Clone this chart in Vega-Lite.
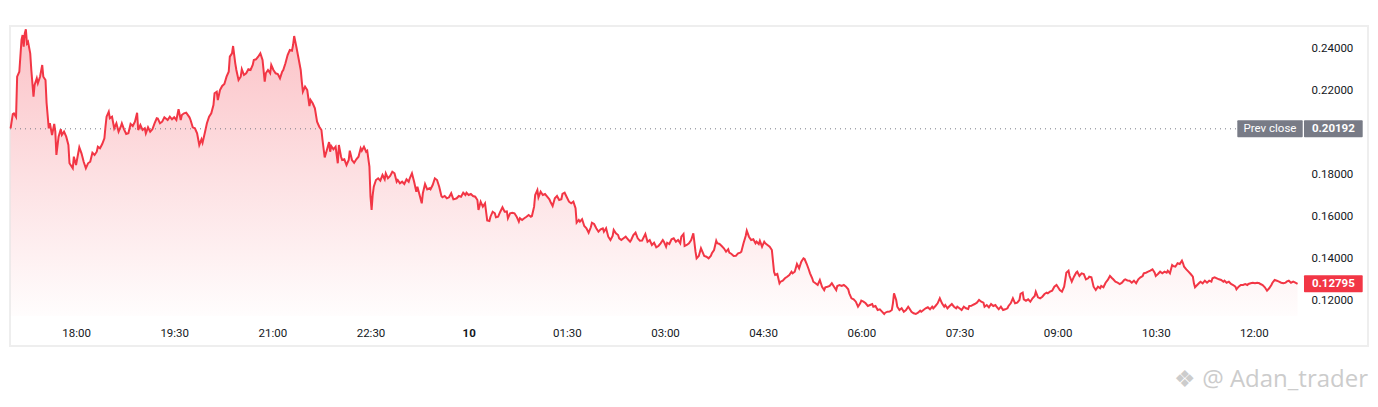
{
  "$schema": "https://vega.github.io/schema/vega-lite/v6.json",
  "width": 1358,
  "height": 320,
  "autosize": {"type": "none"},
  "padding": {"left": 10, "top": 26, "right": 10, "bottom": 61},
  "background": "white",
  "config": {
    "view": {"stroke": "#EEEEEE", "strokeWidth": 2},
    "font": "Roboto"
  },
  "title": {
    "text": "❖  @ Adan_trader",
    "orient": "bottom",
    "anchor": "end",
    "frame": "group",
    "font": "Open Sans",
    "fontSize": 24,
    "fontWeight": "normal",
    "color": "#CCCCCC",
    "offset": 22
  },
  "datasets": {
    "series": [
      {"time":"09 17:00","price":0.20217},{"time":"09 17:02","price":0.20899},{"time":"09 17:03","price":0.20932},{"time":"09 17:05","price":0.20756},{"time":"09 17:06","price":0.22678},{"time":"09 17:08","price":0.22917},{"time":"09 17:10","price":0.24429},{"time":"09 17:11","price":0.24668},{"time":"09 17:12","price":0.24110},{"time":"09 17:13","price":0.24749},{"time":"09 17:14","price":0.24940},{"time":"09 17:15","price":0.24272},{"time":"09 17:16","price":0.24348},{"time":"09 17:18","price":0.23795},{"time":"09 17:19","price":0.22998},{"time":"09 17:21","price":0.21724},{"time":"09 17:22","price":0.22282},{"time":"09 17:24","price":0.22602},{"time":"09 17:25","price":0.22364},{"time":"09 17:27","price":0.22678},{"time":"09 17:29","price":0.23237},{"time":"09 17:30","price":0.22678},{"time":"09 17:32","price":0.22521},{"time":"09 17:33","price":0.21424},{"time":"09 17:35","price":0.20217},{"time":"09 17:36","price":0.20455},{"time":"09 17:38","price":0.19897},{"time":"09 17:40","price":0.20422},{"time":"09 17:41","price":0.20054},{"time":"09 17:42","price":0.18943},{"time":"09 17:44","price":0.19816},{"time":"09 17:46","price":0.20169},{"time":"09 17:47","price":0.19897},{"time":"09 17:49","price":0.20054},{"time":"09 17:51","price":0.19816},{"time":"09 17:53","price":0.19420},{"time":"09 17:54","price":0.18547},{"time":"09 17:57","price":0.18308},{"time":"09 17:58","price":0.18862},
      {"time":"09 18:00","price":0.18466},{"time":"09 18:03","price":0.19310},{"time":"09 18:05","price":0.19024},{"time":"09 18:07","price":0.18623},{"time":"09 18:09","price":0.18308},{"time":"09 18:11","price":0.18547},{"time":"09 18:13","price":0.18623},{"time":"09 18:15","price":0.19053},{"time":"09 18:17","price":0.18943},{"time":"09 18:19","price":0.19100},{"time":"09 18:20","price":0.19339},{"time":"09 18:22","price":0.19262},{"time":"09 18:24","price":0.19468},{"time":"09 18:26","price":0.19740},{"time":"09 18:27","price":0.20293},{"time":"09 18:28","price":0.20770},{"time":"09 18:30","price":0.21009},{"time":"09 18:31","price":0.20694},{"time":"09 18:33","price":0.20770},{"time":"09 18:35","price":0.20217},{"time":"09 18:37","price":0.20455},{"time":"09 18:39","price":0.20054},{"time":"09 18:41","price":0.20293},{"time":"09 18:42","price":0.20455},{"time":"09 18:44","price":0.20169},{"time":"09 18:46","price":0.19945},{"time":"09 18:48","price":0.19978},{"time":"09 18:50","price":0.20422},{"time":"09 18:52","price":0.20326},{"time":"09 18:54","price":0.20532},{"time":"09 18:56","price":0.20961},{"time":"09 18:57","price":0.20136},{"time":"09 18:59","price":0.20374},
      {"time":"09 19:01","price":0.20136},{"time":"09 19:03","price":0.20217},{"time":"09 19:04","price":0.19978},{"time":"09 19:06","price":0.20264},{"time":"09 19:08","price":0.20054},{"time":"09 19:10","price":0.20169},{"time":"09 19:12","price":0.20455},{"time":"09 19:14","price":0.20694},{"time":"09 19:15","price":0.20680},{"time":"09 19:17","price":0.20455},{"time":"09 19:19","price":0.20532},{"time":"09 19:21","price":0.20741},{"time":"09 19:24","price":0.20613},{"time":"09 19:26","price":0.20770},{"time":"09 19:28","price":0.20646},{"time":"09 19:30","price":0.20741},{"time":"09 19:32","price":0.20613},{"time":"09 19:34","price":0.21123},{"time":"09 19:36","price":0.20613},{"time":"09 19:37","price":0.20851},{"time":"09 19:39","price":0.20932},{"time":"09 19:41","price":0.20961},{"time":"09 19:44","price":0.20741},{"time":"09 19:45","price":0.20613},{"time":"09 19:47","price":0.20264},{"time":"09 19:49","price":0.20217},{"time":"09 19:51","price":0.19978},{"time":"09 19:53","price":0.19420},{"time":"09 19:55","price":0.19692},{"time":"09 19:56","price":0.19530},{"time":"09 19:58","price":0.19978},
      {"time":"09 20:00","price":0.20455},{"time":"09 20:02","price":0.20770},{"time":"09 20:04","price":0.20932},{"time":"09 20:06","price":0.21328},{"time":"09 20:07","price":0.21887},{"time":"09 20:09","price":0.21963},{"time":"09 20:10","price":0.21567},{"time":"09 20:12","price":0.22044},{"time":"09 20:14","price":0.22235},{"time":"09 20:16","price":0.22330},{"time":"09 20:18","price":0.22678},{"time":"09 20:20","price":0.22917},{"time":"09 20:21","price":0.23633},{"time":"09 20:23","price":0.23795},{"time":"09 20:24","price":0.24143},{"time":"09 20:26","price":0.23318},{"time":"09 20:27","price":0.22998},{"time":"09 20:29","price":0.22521},{"time":"09 20:31","price":0.22678},{"time":"09 20:32","price":0.23032},{"time":"09 20:34","price":0.22760},{"time":"09 20:36","price":0.22841},{"time":"09 20:38","price":0.23032},{"time":"09 20:40","price":0.22998},{"time":"09 20:42","price":0.23237},{"time":"09 20:43","price":0.23475},{"time":"09 20:45","price":0.23509},{"time":"09 20:47","price":0.23633},{"time":"09 20:49","price":0.23795},{"time":"09 20:51","price":0.23475},{"time":"09 20:53","price":0.22440},{"time":"09 20:54","price":0.22841},{"time":"09 20:56","price":0.22998},{"time":"09 20:58","price":0.22841},{"time":"09 20:59","price":0.23237},
      {"time":"09 21:01","price":0.22998},{"time":"09 21:03","price":0.22841},{"time":"09 21:05","price":0.22807},{"time":"09 21:07","price":0.22602},{"time":"09 21:09","price":0.22917},{"time":"09 21:10","price":0.22998},{"time":"09 21:12","price":0.23318},{"time":"09 21:14","price":0.23714},{"time":"09 21:16","price":0.23952},{"time":"09 21:18","price":0.23919},{"time":"09 21:19","price":0.24191},{"time":"09 21:20","price":0.24620},{"time":"09 21:22","price":0.24110},{"time":"09 21:24","price":0.23556},{"time":"09 21:26","price":0.22998},{"time":"09 21:27","price":0.22440},{"time":"09 21:28","price":0.21963},{"time":"09 21:30","price":0.22201},{"time":"09 21:32","price":0.22044},{"time":"09 21:34","price":0.21281},{"time":"09 21:35","price":0.21567},{"time":"09 21:37","price":0.21409},{"time":"09 21:39","price":0.21171},{"time":"09 21:41","price":0.20532},{"time":"09 21:43","price":0.20293},{"time":"09 21:45","price":0.20136},{"time":"09 21:46","price":0.19658},{"time":"09 21:48","price":0.18824},{"time":"09 21:50","price":0.19181},{"time":"09 21:52","price":0.19563},{"time":"09 21:53","price":0.19100},{"time":"09 21:54","price":0.19372},{"time":"09 21:56","price":0.19215},{"time":"09 21:58","price":0.19339},
      {"time":"09 22:00","price":0.18547},{"time":"09 22:01","price":0.19420},{"time":"09 22:03","price":0.18862},{"time":"09 22:04","price":0.18704},{"time":"09 22:06","price":0.18738},{"time":"09 22:08","price":0.18466},{"time":"09 22:10","price":0.18704},{"time":"09 22:11","price":0.19148},{"time":"09 22:13","price":0.18704},{"time":"09 22:15","price":0.18575},{"time":"09 22:17","price":0.18738},{"time":"09 22:19","price":0.18862},{"time":"09 22:21","price":0.19262},{"time":"09 22:22","price":0.19148},{"time":"09 22:24","price":0.19339},{"time":"09 22:26","price":0.19100},{"time":"09 22:27","price":0.19148},{"time":"09 22:29","price":0.18385},{"time":"09 22:30","price":0.16953},{"time":"09 22:31","price":0.16319},{"time":"09 22:32","price":0.17034},{"time":"09 22:33","price":0.17430},{"time":"09 22:35","price":0.17750},{"time":"09 22:37","price":0.17831},{"time":"09 22:39","price":0.17717},{"time":"09 22:41","price":0.17989},{"time":"09 22:43","price":0.17783},{"time":"09 22:44","price":0.18070},{"time":"09 22:46","price":0.17831},{"time":"09 22:48","price":0.17941},{"time":"09 22:50","price":0.18146},{"time":"09 22:52","price":0.18070},{"time":"09 22:54","price":0.17669},{"time":"09 22:55","price":0.17750},{"time":"09 22:57","price":0.17593},{"time":"09 22:59","price":0.17669},
      {"time":"09 23:01","price":0.17559},{"time":"09 23:03","price":0.17783},{"time":"09 23:05","price":0.17669},{"time":"09 23:06","price":0.17831},{"time":"09 23:08","price":0.18070},{"time":"09 23:10","price":0.17669},{"time":"09 23:12","price":0.17192},{"time":"09 23:13","price":0.17430},{"time":"09 23:15","price":0.17034},{"time":"09 23:17","price":0.16638},{"time":"09 23:18","price":0.17116},{"time":"09 23:20","price":0.17559},{"time":"09 23:22","price":0.17306},{"time":"09 23:24","price":0.17354},{"time":"09 23:25","price":0.17306},{"time":"09 23:27","price":0.17511},{"time":"09 23:29","price":0.17831},{"time":"09 23:31","price":0.17750},{"time":"09 23:33","price":0.17430},{"time":"09 23:35","price":0.16987},{"time":"09 23:36","price":0.16925},{"time":"09 23:38","price":0.16987},{"time":"09 23:40","price":0.16877},{"time":"09 23:42","price":0.16925},{"time":"09 23:44","price":0.17116},{"time":"09 23:46","price":0.16829},{"time":"09 23:47","price":0.16840},{"time":"09 23:49","price":0.16877},{"time":"09 23:51","price":0.16987},{"time":"09 23:53","price":0.16953},{"time":"09 23:55","price":0.17144},{"time":"09 23:57","price":0.17034},{"time":"09 23:58","price":0.17144},
      {"time":"10 00:00","price":0.17034},{"time":"10 00:02","price":0.17082},{"time":"10 00:04","price":0.16987},{"time":"10 00:06","price":0.16953},{"time":"10 00:08","price":0.16796},{"time":"10 00:09","price":0.16319},{"time":"10 00:11","price":0.16715},{"time":"10 00:13","price":0.16476},{"time":"10 00:15","price":0.16638},{"time":"10 00:17","price":0.15818},{"time":"10 00:19","price":0.15794},{"time":"10 00:20","price":0.15999},{"time":"10 00:22","price":0.16238},{"time":"10 00:24","price":0.16161},{"time":"10 00:25","price":0.15970},{"time":"10 00:27","price":0.15999},{"time":"10 00:29","price":0.16238},{"time":"10 00:31","price":0.16448},{"time":"10 00:33","price":0.16238},{"time":"10 00:35","price":0.16250},{"time":"10 00:36","price":0.15923},{"time":"10 00:38","price":0.16161},{"time":"10 00:40","price":0.16190},{"time":"10 00:42","price":0.16161},{"time":"10 00:44","price":0.15999},{"time":"10 00:46","price":0.15760},{"time":"10 00:47","price":0.15923},{"time":"10 00:49","price":0.15842},{"time":"10 00:51","price":0.15923},{"time":"10 00:53","price":0.15999},{"time":"10 00:55","price":0.16080},{"time":"10 00:57","price":0.15999},{"time":"10 00:58","price":0.16032},
      {"time":"10 01:00","price":0.16476},{"time":"10 01:01","price":0.17034},{"time":"10 01:03","price":0.17273},{"time":"10 01:04","price":0.16925},{"time":"10 01:06","price":0.17192},{"time":"10 01:08","price":0.17034},{"time":"10 01:10","price":0.17082},{"time":"10 01:12","price":0.16953},{"time":"10 01:14","price":0.16829},{"time":"10 01:15","price":0.16715},{"time":"10 01:17","price":0.16510},{"time":"10 01:19","price":0.16877},{"time":"10 01:21","price":0.16987},{"time":"10 01:23","price":0.16796},{"time":"10 01:25","price":0.16829},{"time":"10 01:26","price":0.17082},{"time":"10 01:28","price":0.17144},{"time":"10 01:30","price":0.16925},{"time":"10 01:32","price":0.16715},{"time":"10 01:34","price":0.16638},{"time":"10 01:36","price":0.16715},{"time":"10 01:38","price":0.16400},{"time":"10 01:39","price":0.15713},{"time":"10 01:41","price":0.15842},{"time":"10 01:42","price":0.15760},{"time":"10 01:44","price":0.15875},{"time":"10 01:46","price":0.15555},{"time":"10 01:48","price":0.15446},{"time":"10 01:50","price":0.15236},{"time":"10 01:52","price":0.15493},{"time":"10 01:53","price":0.15713},{"time":"10 01:55","price":0.15651},{"time":"10 01:57","price":0.15446},{"time":"10 01:59","price":0.15283},
      {"time":"10 02:01","price":0.15398},{"time":"10 02:03","price":0.15446},{"time":"10 02:04","price":0.15283},{"time":"10 02:06","price":0.15446},{"time":"10 02:08","price":0.15045},{"time":"10 02:10","price":0.14887},{"time":"10 02:12","price":0.15078},{"time":"10 02:13","price":0.15365},{"time":"10 02:15","price":0.15207},{"time":"10 02:17","price":0.15126},{"time":"10 02:18","price":0.14968},{"time":"10 02:20","price":0.14887},{"time":"10 02:22","price":0.14968},{"time":"10 02:24","price":0.15045},{"time":"10 02:26","price":0.14921},{"time":"10 02:28","price":0.14806},{"time":"10 02:29","price":0.14887},{"time":"10 02:31","price":0.15126},{"time":"10 02:33","price":0.15236},{"time":"10 02:35","price":0.14968},{"time":"10 02:37","price":0.14854},{"time":"10 02:39","price":0.14860},{"time":"10 02:40","price":0.14968},{"time":"10 02:42","price":0.15174},{"time":"10 02:44","price":0.14806},{"time":"10 02:46","price":0.14887},{"time":"10 02:48","price":0.14649},{"time":"10 02:50","price":0.14759},{"time":"10 02:52","price":0.14539},{"time":"10 02:54","price":0.14601},{"time":"10 02:56","price":0.14730},{"time":"10 02:58","price":0.14887},{"time":"10 02:59","price":0.14806},
      {"time":"10 03:01","price":0.14568},{"time":"10 03:02","price":0.14759},{"time":"10 03:04","price":0.14697},{"time":"10 03:06","price":0.14921},{"time":"10 03:08","price":0.14968},{"time":"10 03:10","price":0.14806},{"time":"10 03:12","price":0.14887},{"time":"10 03:14","price":0.14730},{"time":"10 03:15","price":0.15045},{"time":"10 03:17","price":0.15174},{"time":"10 03:18","price":0.14601},{"time":"10 03:20","price":0.14649},{"time":"10 03:22","price":0.14730},{"time":"10 03:24","price":0.14887},{"time":"10 03:26","price":0.15207},{"time":"10 03:28","price":0.14329},{"time":"10 03:29","price":0.14014},{"time":"10 03:31","price":0.14124},{"time":"10 03:33","price":0.14491},{"time":"10 03:35","price":0.14253},{"time":"10 03:36","price":0.14124},{"time":"10 03:38","price":0.14091},{"time":"10 03:40","price":0.14014},{"time":"10 03:42","price":0.14124},{"time":"10 03:43","price":0.14253},{"time":"10 03:45","price":0.14410},{"time":"10 03:47","price":0.14854},{"time":"10 03:48","price":0.14730},{"time":"10 03:50","price":0.14697},{"time":"10 03:52","price":0.14601},{"time":"10 03:54","price":0.14491},{"time":"10 03:56","price":0.14329},{"time":"10 03:58","price":0.14444},{"time":"10 03:59","price":0.14281},
      {"time":"10 04:01","price":0.14219},{"time":"10 04:03","price":0.14124},{"time":"10 04:05","price":0.14130},{"time":"10 04:07","price":0.14253},{"time":"10 04:09","price":0.14281},{"time":"10 04:10","price":0.14329},{"time":"10 04:12","price":0.14730},{"time":"10 04:14","price":0.15078},{"time":"10 04:15","price":0.15331},{"time":"10 04:17","price":0.15045},{"time":"10 04:19","price":0.14887},{"time":"10 04:21","price":0.14921},{"time":"10 04:23","price":0.14730},{"time":"10 04:24","price":0.14806},{"time":"10 04:26","price":0.14697},{"time":"10 04:27","price":0.14854},{"time":"10 04:29","price":0.14568},{"time":"10 04:31","price":0.14806},{"time":"10 04:32","price":0.14730},{"time":"10 04:34","price":0.14649},{"time":"10 04:36","price":0.14568},{"time":"10 04:38","price":0.14410},{"time":"10 04:40","price":0.13375},{"time":"10 04:41","price":0.13218},{"time":"10 04:43","price":0.13265},{"time":"10 04:45","price":0.12822},{"time":"10 04:46","price":0.12898},{"time":"10 04:48","price":0.12946},{"time":"10 04:50","price":0.13060},{"time":"10 04:52","price":0.13136},{"time":"10 04:54","price":0.13218},{"time":"10 04:56","price":0.13375},{"time":"10 04:57","price":0.13299},{"time":"10 04:59","price":0.13375},
      {"time":"10 05:01","price":0.13742},{"time":"10 05:03","price":0.13537},{"time":"10 05:05","price":0.13852},{"time":"10 05:07","price":0.14014},{"time":"10 05:08","price":0.13981},{"time":"10 05:10","price":0.13742},{"time":"10 05:12","price":0.13456},{"time":"10 05:13","price":0.13299},{"time":"10 05:15","price":0.13060},{"time":"10 05:16","price":0.12898},{"time":"10 05:18","price":0.12822},{"time":"10 05:20","price":0.12740},{"time":"10 05:22","price":0.12979},{"time":"10 05:24","price":0.12659},{"time":"10 05:26","price":0.12502},{"time":"10 05:27","price":0.12631},{"time":"10 05:29","price":0.12659},{"time":"10 05:31","price":0.12693},{"time":"10 05:33","price":0.12822},{"time":"10 05:35","price":0.12659},{"time":"10 05:37","price":0.12502},{"time":"10 05:38","price":0.12693},{"time":"10 05:40","price":0.12740},{"time":"10 05:42","price":0.12693},{"time":"10 05:44","price":0.12740},{"time":"10 05:46","price":0.12659},{"time":"10 05:48","price":0.12535},{"time":"10 05:49","price":0.12344},{"time":"10 05:51","price":0.12106},{"time":"10 05:53","price":0.12058},{"time":"10 05:55","price":0.11944},{"time":"10 05:57","price":0.11705},{"time":"10 05:59","price":0.11867},
      {"time":"10 06:00","price":0.11991},{"time":"10 06:02","price":0.11944},{"time":"10 06:04","price":0.11867},{"time":"10 06:06","price":0.11739},{"time":"10 06:08","price":0.11786},{"time":"10 06:10","price":0.11834},{"time":"10 06:11","price":0.11705},{"time":"10 06:13","price":0.11739},{"time":"10 06:15","price":0.11547},{"time":"10 06:17","price":0.11581},{"time":"10 06:19","price":0.11467},{"time":"10 06:21","price":0.11357},{"time":"10 06:22","price":0.11419},{"time":"10 06:24","price":0.11467},{"time":"10 06:26","price":0.11475},{"time":"10 06:28","price":0.11547},{"time":"10 06:29","price":0.11867},{"time":"10 06:30","price":0.12344},{"time":"10 06:32","price":0.12025},{"time":"10 06:33","price":0.11705},{"time":"10 06:35","price":0.11547},{"time":"10 06:37","price":0.11629},{"time":"10 06:39","price":0.11467},{"time":"10 06:41","price":0.11547},{"time":"10 06:43","price":0.11705},{"time":"10 06:44","price":0.11629},{"time":"10 06:46","price":0.11467},{"time":"10 06:48","price":0.11390},{"time":"10 06:50","price":0.11357},{"time":"10 06:52","price":0.11419},{"time":"10 06:54","price":0.11514},{"time":"10 06:55","price":0.11467},{"time":"10 06:57","price":0.11547},{"time":"10 06:59","price":0.11629},
      {"time":"10 07:01","price":0.11677},{"time":"10 07:03","price":0.11581},{"time":"10 07:05","price":0.11705},{"time":"10 07:06","price":0.11629},{"time":"10 07:08","price":0.11739},{"time":"10 07:10","price":0.11867},{"time":"10 07:12","price":0.12106},{"time":"10 07:14","price":0.11867},{"time":"10 07:16","price":0.11705},{"time":"10 07:17","price":0.11786},{"time":"10 07:19","price":0.11629},{"time":"10 07:21","price":0.11739},{"time":"10 07:23","price":0.11834},{"time":"10 07:25","price":0.11705},{"time":"10 07:27","price":0.11629},{"time":"10 07:28","price":0.11705},{"time":"10 07:30","price":0.11629},{"time":"10 07:32","price":0.11547},{"time":"10 07:34","price":0.11705},{"time":"10 07:36","price":0.11629},{"time":"10 07:38","price":0.11595},{"time":"10 07:39","price":0.11739},{"time":"10 07:41","price":0.11744},{"time":"10 07:42","price":0.11786},{"time":"10 07:44","price":0.11834},{"time":"10 07:46","price":0.11896},{"time":"10 07:48","price":0.12025},{"time":"10 07:50","price":0.11944},{"time":"10 07:52","price":0.11896},{"time":"10 07:53","price":0.11705},{"time":"10 07:55","price":0.11786},{"time":"10 07:57","price":0.11677},{"time":"10 07:59","price":0.11834},
      {"time":"10 08:01","price":0.11739},{"time":"10 08:03","price":0.11786},{"time":"10 08:04","price":0.11705},{"time":"10 08:06","price":0.11581},{"time":"10 08:08","price":0.11705},{"time":"10 08:10","price":0.11547},{"time":"10 08:12","price":0.11581},{"time":"10 08:14","price":0.11629},{"time":"10 08:15","price":0.11739},{"time":"10 08:17","price":0.11867},{"time":"10 08:19","price":0.12106},{"time":"10 08:21","price":0.11867},{"time":"10 08:23","price":0.11896},{"time":"10 08:25","price":0.12025},{"time":"10 08:26","price":0.12311},{"time":"10 08:28","price":0.12373},{"time":"10 08:29","price":0.12058},{"time":"10 08:31","price":0.11991},{"time":"10 08:33","price":0.12058},{"time":"10 08:35","price":0.11944},{"time":"10 08:37","price":0.12106},{"time":"10 08:39","price":0.12216},{"time":"10 08:40","price":0.12421},{"time":"10 08:42","price":0.12154},{"time":"10 08:44","price":0.12106},{"time":"10 08:46","price":0.12182},{"time":"10 08:48","price":0.12311},{"time":"10 08:50","price":0.12373},{"time":"10 08:51","price":0.12344},{"time":"10 08:53","price":0.12421},{"time":"10 08:55","price":0.12469},{"time":"10 08:57","price":0.12659},{"time":"10 08:59","price":0.12740},
      {"time":"10 09:01","price":0.12583},{"time":"10 09:02","price":0.12502},{"time":"10 09:04","price":0.12421},{"time":"10 09:06","price":0.12659},{"time":"10 09:07","price":0.12979},{"time":"10 09:08","price":0.13327},{"time":"10 09:10","price":0.13423},{"time":"10 09:11","price":0.13170},{"time":"10 09:13","price":0.12898},{"time":"10 09:15","price":0.13136},{"time":"10 09:17","price":0.13327},{"time":"10 09:18","price":0.13375},{"time":"10 09:20","price":0.13170},{"time":"10 09:22","price":0.13299},{"time":"10 09:24","price":0.13265},{"time":"10 09:26","price":0.13012},{"time":"10 09:28","price":0.13060},{"time":"10 09:29","price":0.13136},{"time":"10 09:31","price":0.13108},{"time":"10 09:33","price":0.12659},{"time":"10 09:35","price":0.12502},{"time":"10 09:37","price":0.12659},{"time":"10 09:39","price":0.12583},{"time":"10 09:40","price":0.12693},{"time":"10 09:42","price":0.12631},{"time":"10 09:44","price":0.12850},{"time":"10 09:46","price":0.12979},{"time":"10 09:48","price":0.13170},{"time":"10 09:50","price":0.13060},{"time":"10 09:51","price":0.13012},{"time":"10 09:53","price":0.12898},{"time":"10 09:55","price":0.12850},{"time":"10 09:57","price":0.12788},{"time":"10 09:59","price":0.12850},
      {"time":"10 10:01","price":0.12979},{"time":"10 10:02","price":0.13012},{"time":"10 10:04","price":0.12955},{"time":"10 10:06","price":0.12946},{"time":"10 10:08","price":0.12850},{"time":"10 10:10","price":0.12946},{"time":"10 10:12","price":0.12822},{"time":"10 10:14","price":0.13012},{"time":"10 10:16","price":0.13108},{"time":"10 10:18","price":0.13170},{"time":"10 10:19","price":0.13299},{"time":"10 10:21","price":0.13327},{"time":"10 10:23","price":0.13375},{"time":"10 10:25","price":0.13423},{"time":"10 10:27","price":0.13489},{"time":"10 10:29","price":0.13327},{"time":"10 10:30","price":0.13170},{"time":"10 10:32","price":0.13265},{"time":"10 10:34","price":0.13375},{"time":"10 10:36","price":0.13299},{"time":"10 10:38","price":0.13380},{"time":"10 10:40","price":0.13327},{"time":"10 10:41","price":0.13423},{"time":"10 10:43","price":0.13299},{"time":"10 10:45","price":0.13695},{"time":"10 10:46","price":0.13647},{"time":"10 10:48","price":0.13614},{"time":"10 10:50","price":0.13776},{"time":"10 10:52","price":0.13742},{"time":"10 10:54","price":0.13900},{"time":"10 10:55","price":0.13776},{"time":"10 10:56","price":0.13614},{"time":"10 10:58","price":0.13489},
      {"time":"10 11:00","price":0.13375},{"time":"10 11:02","price":0.13265},{"time":"10 11:04","price":0.13136},{"time":"10 11:05","price":0.12822},{"time":"10 11:06","price":0.12631},{"time":"10 11:08","price":0.12740},{"time":"10 11:10","price":0.12850},{"time":"10 11:11","price":0.12898},{"time":"10 11:13","price":0.12822},{"time":"10 11:15","price":0.12946},{"time":"10 11:17","price":0.12850},{"time":"10 11:19","price":0.12946},{"time":"10 11:21","price":0.12898},{"time":"10 11:22","price":0.13060},{"time":"10 11:24","price":0.13108},{"time":"10 11:26","price":0.13060},{"time":"10 11:28","price":0.13012},{"time":"10 11:30","price":0.12979},{"time":"10 11:32","price":0.12898},{"time":"10 11:33","price":0.12946},{"time":"10 11:35","price":0.12850},{"time":"10 11:37","price":0.12898},{"time":"10 11:39","price":0.12788},{"time":"10 11:41","price":0.12740},{"time":"10 11:43","price":0.12659},{"time":"10 11:44","price":0.12535},{"time":"10 11:46","price":0.12659},{"time":"10 11:48","price":0.12740},{"time":"10 11:50","price":0.12745},{"time":"10 11:52","price":0.12788},{"time":"10 11:54","price":0.12740},{"time":"10 11:55","price":0.12788},{"time":"10 11:57","price":0.12822},{"time":"10 11:59","price":0.12850},
      {"time":"10 12:01","price":0.12822},{"time":"10 12:03","price":0.12850},{"time":"10 12:05","price":0.12822},{"time":"10 12:06","price":0.12788},{"time":"10 12:08","price":0.12740},{"time":"10 12:10","price":0.12631},{"time":"10 12:12","price":0.12469},{"time":"10 12:14","price":0.12583},{"time":"10 12:16","price":0.12740},{"time":"10 12:17","price":0.12850},{"time":"10 12:19","price":0.12979},{"time":"10 12:21","price":0.12946},{"time":"10 12:23","price":0.12898},{"time":"10 12:25","price":0.12850},{"time":"10 12:27","price":0.12822},{"time":"10 12:29","price":0.12850},{"time":"10 12:30","price":0.12898},{"time":"10 12:32","price":0.12946},{"time":"10 12:34","price":0.12850},{"time":"10 12:36","price":0.12898},{"time":"10 12:38","price":0.12850},{"time":"10 12:40","price":0.12795}
    ],
    "levels": [
      {"kind": "prev", "label": "Prev close", "price": 0.20192},
      {"kind": "last", "label": "Last", "price": 0.12795}
    ]
  },
  "data": {"name": "series", "format": {"parse": {"time": "utc:'%d %H:%M'"}}},
  "layer": [
    {
      "mark": {
        "type": "area",
        "interpolate": "linear",
        "fill": {
          "gradient": "linear",
          "x1": 0, "y1": 0, "x2": 0, "y2": 1,
          "stops": [
            {"offset": 0, "color": "rgba(242,54,69,0.30)"},
            {"offset": 1, "color": "rgba(242,54,69,0.01)"}
          ]
        }
      },
      "encoding": {
        "x": {
          "field": "time",
          "type": "temporal",
          "scale": {
            "type": "utc",
            "domain": [
              {"year": 1900, "month": 1, "date": 9, "hours": 16, "minutes": 59, "seconds": 27, "utc": true},
              {"year": 1900, "month": 1, "date": 10, "hours": 13, "minutes": 44, "seconds": 36, "utc": true}
            ]
          },
          "axis": {
            "orient": "bottom",
            "offset": -30,
            "title": null,
            "domain": false,
            "ticks": false,
            "tickSize": 0,
            "grid": false,
            "labelPadding": 11,
            "labelFont": "Roboto",
            "labelFontSize": 11.5,
            "labelColor": "#131722",
            "labelOverlap": false,
            "labelFlush": false,
            "labelExpr": "utchours(datum.value) == 0 ? utcFormat(datum.value, '%d') : utcFormat(datum.value, '%H:%M')",
            "labelFontWeight": {"condition": {"test": "utchours(datum.value) == 0", "value": "bold"}, "value": "normal"},
            "values": [
              {"year": 1900, "month": 1, "date": 9, "hours": 18, "minutes": 0, "utc": true},
              {"year": 1900, "month": 1, "date": 9, "hours": 19, "minutes": 30, "utc": true},
              {"year": 1900, "month": 1, "date": 9, "hours": 21, "minutes": 0, "utc": true},
              {"year": 1900, "month": 1, "date": 9, "hours": 22, "minutes": 30, "utc": true},
              {"year": 1900, "month": 1, "date": 10, "hours": 0, "minutes": 0, "utc": true},
              {"year": 1900, "month": 1, "date": 10, "hours": 1, "minutes": 30, "utc": true},
              {"year": 1900, "month": 1, "date": 10, "hours": 3, "minutes": 0, "utc": true},
              {"year": 1900, "month": 1, "date": 10, "hours": 4, "minutes": 30, "utc": true},
              {"year": 1900, "month": 1, "date": 10, "hours": 6, "minutes": 0, "utc": true},
              {"year": 1900, "month": 1, "date": 10, "hours": 7, "minutes": 30, "utc": true},
              {"year": 1900, "month": 1, "date": 10, "hours": 9, "minutes": 0, "utc": true},
              {"year": 1900, "month": 1, "date": 10, "hours": 10, "minutes": 30, "utc": true},
              {"year": 1900, "month": 1, "date": 10, "hours": 12, "minutes": 0, "utc": true}
            ]
          }
        },
        "y": {
          "field": "price",
          "type": "quantitative",
          "scale": {"domain": [0.098301, 0.250973], "nice": false, "zero": false},
          "axis": {
            "orient": "right",
            "offset": -65,
            "title": null,
            "domain": false,
            "ticks": false,
            "grid": false,
            "values": [0.12, 0.14, 0.16, 0.18, 0.22, 0.24],
            "format": ".5f",
            "labelPadding": 8,
            "labelAlign": "left",
            "labelBaseline": "middle",
            "labelFont": "Roboto",
            "labelFontSize": 11.5,
            "labelColor": "#131722"
          }
        },
        "y2": {"datum": 0.11261}
      }
    },
    {
      "data": {"name": "levels"},
      "transform": [{"filter": "datum.kind == 'prev'"}],
      "mark": {"type": "rule", "color": "#787B86", "strokeWidth": 1, "strokeDash": [1, 4]},
      "encoding": {
        "y": {"field": "price", "type": "quantitative"},
        "x": {"datum": {"year": 1900, "month": 1, "date": 9, "hours": 16, "minutes": 59, "seconds": 27, "utc": true}, "type": "temporal"},
        "x2": {"datum": {"year": 1900, "month": 1, "date": 10, "hours": 11, "minutes": 44, "seconds": 46, "utc": true}}
      }
    },
    {
      "mark": {"type": "line", "color": "#F23645", "strokeWidth": 2, "interpolate": "linear"},
      "encoding": {
        "x": {"field": "time", "type": "temporal"},
        "y": {"field": "price", "type": "quantitative"}
      }
    },
    {
      "data": {"name": "levels"},
      "mark": {"type": "rect", "yOffset": -8.5, "y2Offset": 8.5, "cornerRadius": 1},
      "encoding": {
        "x": {"datum": {"year": 1900, "month": 1, "date": 10, "hours": 12, "minutes": 45, "seconds": 55, "utc": true}, "type": "temporal"},
        "x2": {"datum": {"year": 1900, "month": 1, "date": 10, "hours": 13, "minutes": 39, "seconds": 44, "utc": true}},
        "y": {"field": "price", "type": "quantitative"},
        "y2": {"field": "price"},
        "color": {
          "field": "kind",
          "type": "nominal",
          "scale": {"domain": ["prev", "last"], "range": ["#787B86", "#F23645"]},
          "legend": null
        }
      }
    },
    {
      "data": {"name": "levels"},
      "transform": [{"filter": "datum.kind == 'prev'"}],
      "mark": {"type": "rect", "yOffset": -8.5, "y2Offset": 8.5, "cornerRadius": 1, "color": "#787B86"},
      "encoding": {
        "x": {"datum": {"year": 1900, "month": 1, "date": 10, "hours": 11, "minutes": 44, "seconds": 46, "utc": true}, "type": "temporal"},
        "x2": {"datum": {"year": 1900, "month": 1, "date": 10, "hours": 12, "minutes": 44, "seconds": 44, "utc": true}},
        "y": {"field": "price", "type": "quantitative"},
        "y2": {"field": "price"}
      }
    },
    {
      "data": {"name": "levels"},
      "mark": {"type": "text", "color": "white", "font": "Roboto", "fontSize": 11.5, "fontWeight": "bold", "align": "center", "baseline": "middle"},
      "encoding": {
        "x": {"datum": {"year": 1900, "month": 1, "date": 10, "hours": 13, "minutes": 12, "seconds": 50, "utc": true}, "type": "temporal"},
        "y": {"field": "price", "type": "quantitative"},
        "text": {"field": "price", "type": "quantitative", "format": ".5f"}
      }
    },
    {
      "data": {"name": "levels"},
      "transform": [{"filter": "datum.kind == 'prev'"}],
      "mark": {"type": "text", "color": "white", "font": "Roboto", "fontSize": 11.5, "align": "center", "baseline": "middle"},
      "encoding": {
        "x": {"datum": {"year": 1900, "month": 1, "date": 10, "hours": 12, "minutes": 14, "seconds": 44, "utc": true}, "type": "temporal"},
        "y": {"field": "price", "type": "quantitative"},
        "text": {"field": "label", "type": "nominal"}
      }
    }
  ]
}
